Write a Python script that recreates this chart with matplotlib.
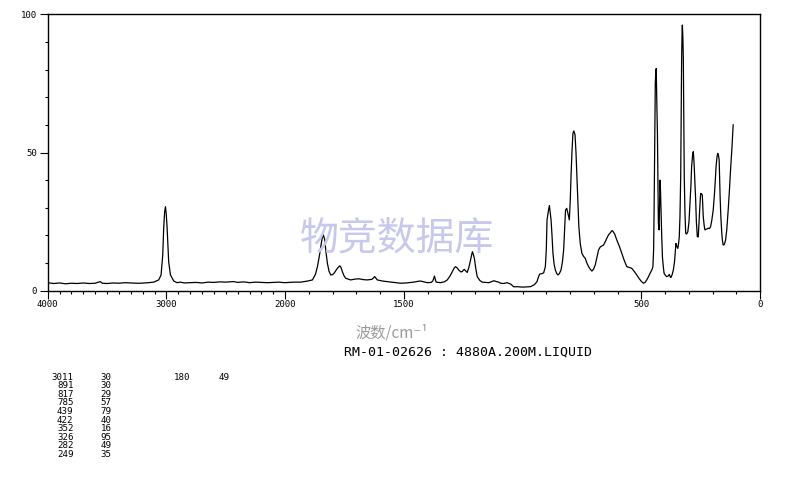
import numpy as np
import matplotlib
matplotlib.use("Agg")
import matplotlib.pyplot as plt
from matplotlib.ticker import FixedLocator, FixedFormatter, MultipleLocator

# ---------------- data ----------------
spectrum_wavenumber = [
    4000, 3950, 3900, 3850, 3800, 3750, 3700, 3650, 3600, 3558, 3540, 3500, 3450, 3400,
    3350, 3300, 3250, 3220, 3150, 3107, 3065, 3045, 3031, 3023, 3015, 3008, 3001, 2994,
    2981, 2966, 2938, 2910, 2882, 2850, 2800, 2750, 2700, 2650, 2600, 2550, 2500, 2434,
    2400, 2350, 2300, 2250, 2200, 2150, 2100, 2050, 2008, 1960, 1934, 1905, 1885, 1872,
    1864, 1856, 1850, 1844, 1839, 1833, 1828, 1822, 1815, 1808, 1800, 1794, 1785, 1780,
    1770, 1765, 1759, 1752, 1745, 1724, 1705, 1689, 1670, 1654, 1635, 1628, 1623, 1618,
    1612, 1590, 1570, 1540, 1514, 1490, 1458, 1440, 1430, 1415, 1401, 1385, 1378, 1371,
    1366, 1364, 1346, 1330, 1317, 1305, 1296, 1288, 1282, 1275, 1269, 1260, 1254, 1249,
    1245, 1240, 1233, 1226, 1219, 1214, 1211, 1207, 1203, 1197, 1191, 1180, 1170, 1155,
    1142, 1130, 1121, 1110, 1100, 1093, 1080, 1065, 1050, 1037, 1023, 1000, 980, 967,
    950, 939, 933, 928, 918, 911, 904, 900, 897, 891, 887, 884, 880, 876, 872, 867, 862,
    856, 851, 845, 838, 832, 827, 823, 819, 814, 809, 803, 799, 796, 792, 788, 784, 779,
    775, 771, 767, 763, 757, 750, 743, 736, 729, 722, 715, 708, 701, 694, 687, 680, 673,
    666, 659, 652, 645, 638, 630, 625, 621, 612, 603, 592, 582, 572, 561, 550, 540, 530,
    519, 510, 500, 491, 484, 477, 470, 463, 455, 451, 448, 446, 443, 441, 439, 437, 435,
    432, 430, 428, 425, 423, 421, 419, 417, 414, 411, 407, 404, 398, 393, 387, 382, 378,
    375, 370, 365, 360, 357, 354, 350, 346, 343, 340, 337, 334, 332, 330, 328, 327, 325,
    323, 321, 319, 316, 313, 309, 304, 299, 295, 291, 288, 284, 281, 279, 277, 274, 271,
    268, 264, 260, 258, 256, 253, 250, 246, 243, 239, 235, 232, 225, 218, 213, 208, 203,
    197, 191, 185, 181, 178, 175, 172, 170, 168, 165, 161, 158, 155, 150, 145, 140, 134,
    129, 124, 118, 113]
spectrum_intensity = [
    2.9, 2.6, 2.8, 2.5, 2.7, 2.6, 2.8, 2.6, 2.7, 3.3, 2.7, 2.6, 2.8, 2.7,
    2.9, 2.8, 2.7, 2.7, 2.9, 3.1, 3.9, 5.7, 12.9, 22.6, 28.5, 30.4, 27.5, 22.6,
    10.5, 5.7, 3.5, 2.9, 3.1, 2.8, 2.9, 3.0, 2.8, 3.1, 3.0, 3.2, 3.1, 3.3,
    3.0, 3.2, 2.9, 3.1, 3.0, 2.9, 3.0, 3.1, 2.9, 3.1, 3.1, 3.5, 3.9, 6.0,
    8.7, 12.5, 15.9, 19.0, 20.2, 18.4, 14.0, 9.9, 7.0, 5.7, 5.8, 6.3, 7.5, 8.1,
    9.0, 8.5, 6.9, 5.4, 4.5, 3.9, 4.2, 4.3, 4.0, 3.9, 4.1, 4.6, 5.1, 4.6,
    3.9, 3.5, 3.3, 3.0, 2.7, 2.8, 3.1, 3.4, 3.5, 3.2, 2.9, 3.0, 3.5, 5.3,
    3.6, 3.1, 2.9, 3.2, 3.9, 5.4, 6.9, 8.2, 8.7, 8.2, 7.5, 6.8, 6.9, 7.5,
    7.7, 7.2, 6.6, 8.5, 11.1, 13.2, 14.1, 13.0, 11.7, 8.0, 5.1, 3.7, 3.1, 3.0,
    2.9, 3.3, 3.6, 3.3, 3.1, 2.7, 2.6, 2.9, 2.4, 1.4, 1.45, 1.3, 1.4, 1.45,
    2.2, 3.3, 5.0, 6.0, 6.2, 6.5, 8.7, 15.0, 25.6, 29.0, 30.8, 28.5, 25.6, 20.0, 13.5, 9.5, 7.5,
    6.2, 5.7, 6.2, 7.5, 10.5, 14.7, 22.0, 29.2, 29.8, 28.0, 25.6, 33.0, 41.2, 50.0, 56.9, 57.8, 56.4,
    50.0, 41.0, 32.0, 23.2, 17.0, 13.5, 12.4, 11.7, 10.0, 8.7, 7.8, 7.1, 7.8, 9.3, 12.0, 14.7, 15.8,
    16.2, 16.5, 17.7, 19.0, 20.2, 21.0, 21.6, 21.7, 20.5, 18.3, 16.0, 13.5, 11.0, 8.7, 8.4, 8.1, 7.0,
    5.7, 4.5, 3.4, 2.7, 3.0, 3.9, 5.0, 6.3, 7.6, 8.7, 15.0, 29.2, 55.0, 75.0, 79.0, 80.4, 70.0,
    56.9, 40.0, 24.4, 22.0, 32.0, 40.0, 36.0, 29.0, 20.0, 12.3, 8.5, 6.3, 5.5, 5.1, 5.3, 5.9, 5.0,
    4.8, 5.8, 7.5, 10.5, 14.0, 17.1, 16.0, 15.3, 17.0, 19.5, 27.0, 41.2, 62.0, 84.7, 94.0, 96.1, 92.0,
    84.7, 62.0, 41.2, 28.0, 20.8, 20.5, 21.3, 25.0, 31.6, 38.0, 44.9, 49.0, 50.3, 48.0, 44.9, 39.0, 32.8,
    25.0, 19.5, 19.5, 23.0, 26.8, 31.0, 35.2, 35.0, 34.6, 26.8, 23.5, 22.0, 22.3, 22.6, 22.5, 23.2, 25.5,
    29.2, 36.0, 44.9, 48.5, 49.7, 49.0, 47.3, 41.0, 34.0, 27.0, 20.8, 18.0, 16.5, 16.8, 18.3, 22.0, 29.2,
    36.0, 43.7, 52.0, 60.0]

peak_wavenumbers = ["3011", "891", "817", "785", "439", "422", "352", "326", "282", "249", "180"]
peak_intensities = ["30", "30", "29", "57", "79", "40", "16", "95", "49", "35", "49"]

x_major_ticks = [4000, 3000, 2000, 1500, 500, 0]
x_major_labels = ["4000", "3000", "2000", "1500", "500", "0"]
y_major_ticks = [0, 50, 100]
y_major_labels = ["0", "50", "100"]

title_text = "RM-01-02626 : 4880A.200M.LIQUID"
xlabel_text = "波数/cm⁻¹"
watermark_text = "物竞数据库"

# ---------------- figure ----------------
W, H = 794, 482
fig = plt.figure(figsize=(W / 100, H / 100), dpi=100)
ax = fig.add_axes([47.7 / W, 1 - 290.7 / H, 712.3 / W, 276.4 / H])


def fwd(x):
    x = np.asarray(x, dtype=float)
    return np.where(x > 2000, 2000 + (x - 2000) / 2.0, x)


def inv(y):
    y = np.asarray(y, dtype=float)
    return np.where(y > 2000, 2000 + (y - 2000) * 2.0, y)


ax.set_xscale("function", functions=(fwd, inv))
ax.plot(spectrum_wavenumber, spectrum_intensity, color="black", lw=0.9, zorder=3)
ax.set_xlim(4000, 0)
ax.set_ylim(0, 100)

mono = "DejaVu Sans Mono"
ax.xaxis.set_major_locator(FixedLocator(x_major_ticks))
ax.xaxis.set_major_formatter(FixedFormatter(x_major_labels))
ax.xaxis.set_minor_locator(FixedLocator(list(range(0, 4001, 100))))
ax.yaxis.set_major_locator(FixedLocator(y_major_ticks))
ax.yaxis.set_major_formatter(FixedFormatter(y_major_labels))
ax.yaxis.set_minor_locator(MultipleLocator(10))

ax.tick_params(axis="both", which="major", direction="out", length=5.5, width=0.8,
               labelsize=6.5, pad=1.5)
ax.tick_params(axis="both", which="minor", direction="out", length=2.4, width=0.8)
ax.tick_params(axis="y", which="major", pad=2.2)
for lab in ax.get_xticklabels() + ax.get_yticklabels():
    lab.set_family(mono)

for sp in ax.spines.values():
    sp.set_linewidth(1.0)

# watermark
fig.text(396.7 / W, 1 - 239 / H, watermark_text, ha="center", va="center",
         fontsize=28, color="#c8c8ec", family=["Noto Sans CJK SC", "DejaVu Sans"],
         zorder=1)

# x label
fig.text(392 / W, 1 - 333 / H, xlabel_text, ha="center", va="center",
         fontsize=11, color="#9a9a9a", family=["Noto Sans CJK SC", "DejaVu Sans"])

# title line
fig.text(468 / W, 1 - 352 / H, title_text, ha="center", va="center",
         fontsize=9.5, color="black", family=mono)

# peak table
row0 = 377.3
dy = 8.56
fs_tab = 6.6
for i in range(10):
    y = 1 - (row0 + i * dy) / H
    fig.text(73.5 / W, y, peak_wavenumbers[i], ha="right", va="center",
             fontsize=fs_tab, family=mono)
    fig.text(111.5 / W, y, peak_intensities[i], ha="right", va="center",
             fontsize=fs_tab, family=mono)
for j in range(10, len(peak_wavenumbers)):
    y = 1 - (row0 + (j - 10) * dy) / H
    fig.text(190.5 / W, y, peak_wavenumbers[j], ha="right", va="center",
             fontsize=fs_tab, family=mono)
    fig.text(229.5 / W, y, peak_intensities[j], ha="right", va="center",
             fontsize=fs_tab, family=mono)

fig.savefig("out.png", dpi=100, facecolor="white")
